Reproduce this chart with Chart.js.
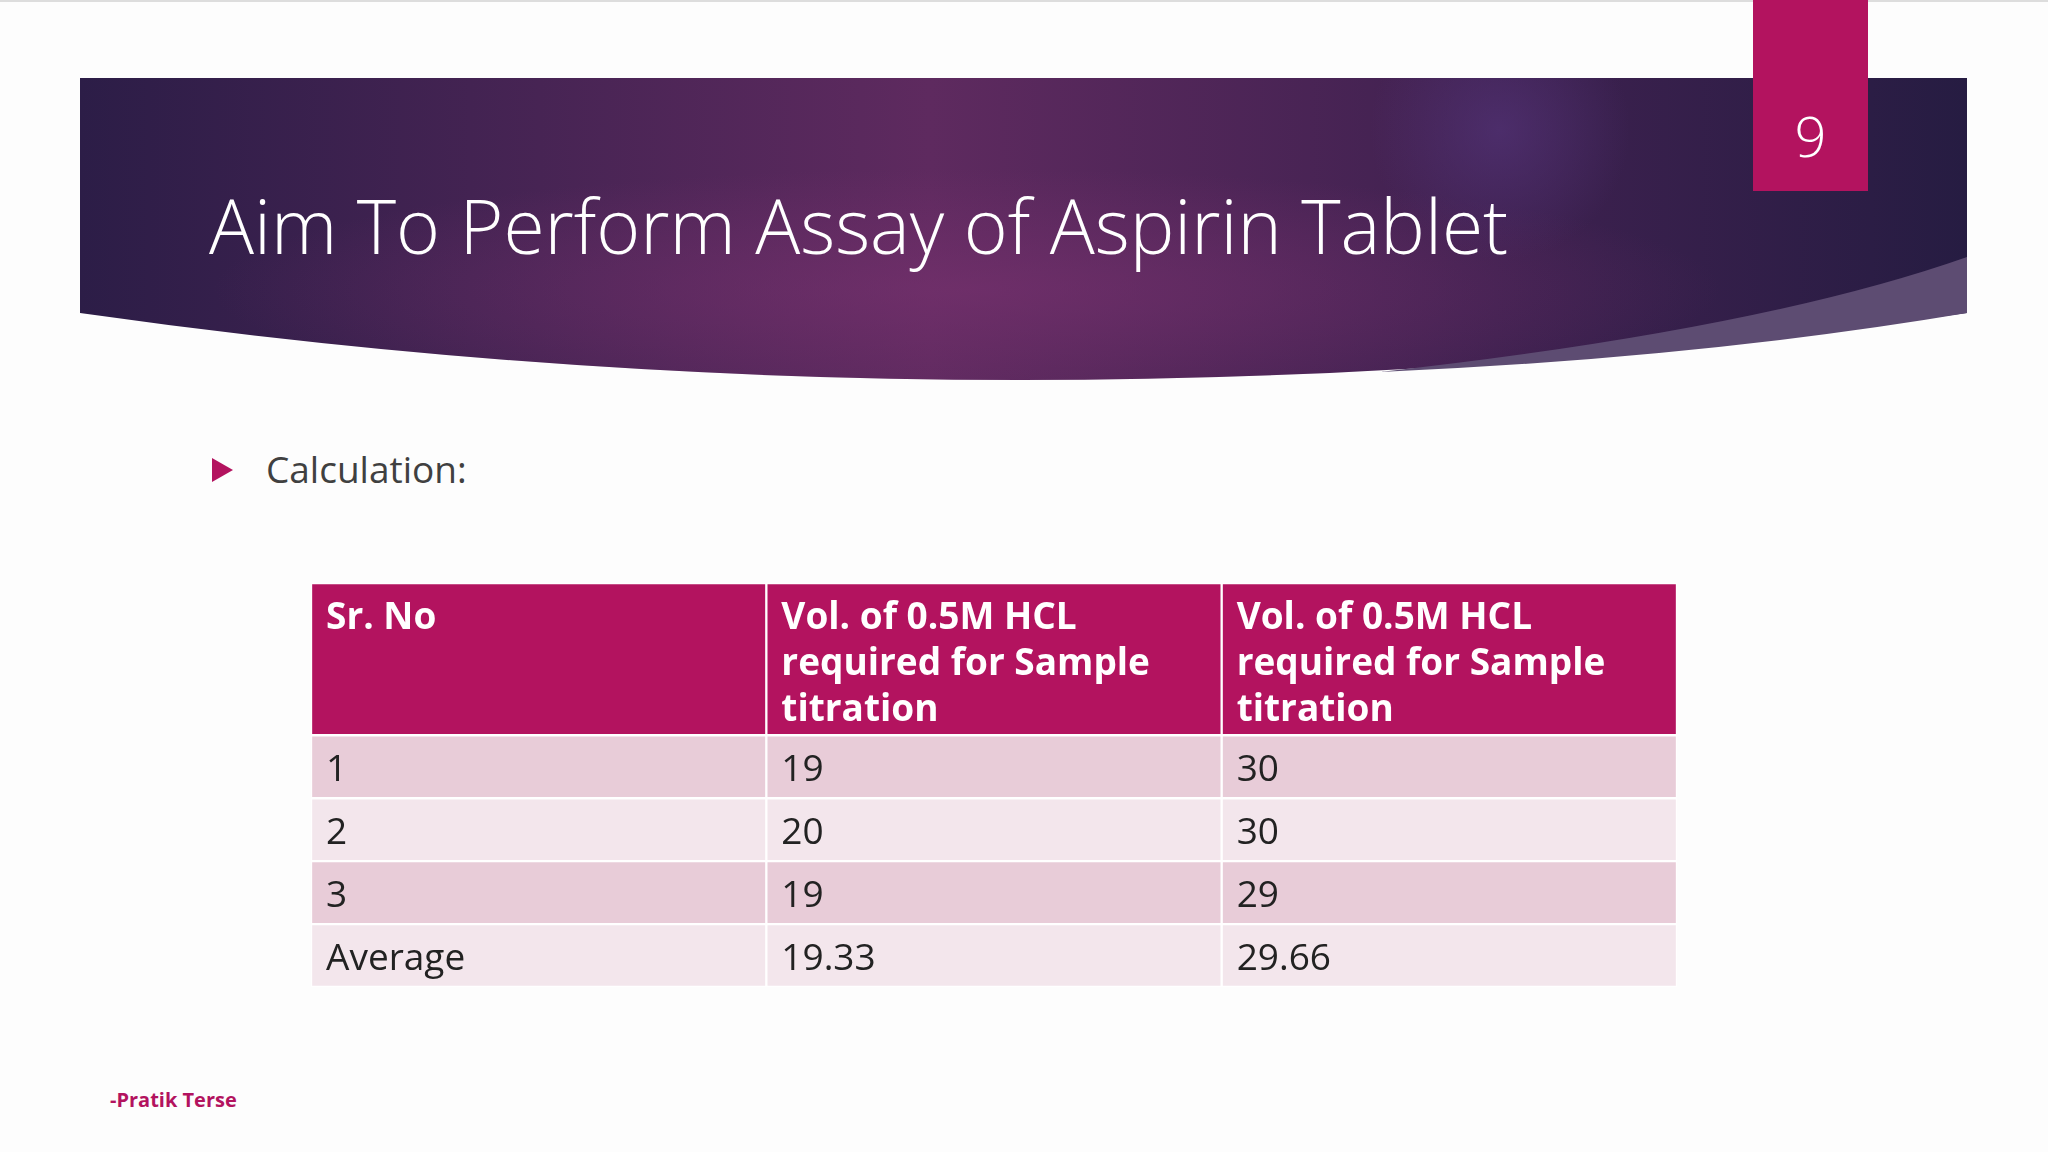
<!DOCTYPE html>
<html><head><meta charset="utf-8">
<script src="https://cdn.jsdelivr.net/npm/chart.js@4.4.1/dist/chart.umd.min.js"></script>
<style>
html,body{margin:0;padding:0;width:2048px;height:1152px;overflow:hidden;background:#fdfdfd;font-family:"Open Sans","Noto Sans",sans-serif}
#bg{position:absolute;left:0;top:0}
.t{position:absolute;white-space:nowrap}
#wrap{position:absolute;left:311px;top:583px;width:1366px;height:404px}
</style></head><body>
<svg id="bg" width="2048" height="1152">
<defs>
<linearGradient id="g" x1="0" y1="0" x2="1" y2="0">
<stop offset="0" stop-color="#2c1d47"/><stop offset="0.45" stop-color="#5e2a5f"/><stop offset="0.75" stop-color="#3f2150"/><stop offset="1" stop-color="#261c42"/>
</linearGradient>
<radialGradient id="r" cx="0.47" cy="0.7" r="0.4"><stop offset="0" stop-color="#7a3270" stop-opacity="0.6"/><stop offset="1" stop-color="#7a3270" stop-opacity="0"/></radialGradient>
<radialGradient id="r2" gradientUnits="userSpaceOnUse" cx="1500" cy="130" r="130"><stop offset="0" stop-color="#55357c" stop-opacity="0.6"/><stop offset="1" stop-color="#55357c" stop-opacity="0"/></radialGradient>
</defs>
<line x1="0" y1="1" x2="2048" y2="1" stroke="#ddd" stroke-width="2"/>
<path d="M80,78 L1967,78 L1967,313 Q1020,447 80,313 Z" fill="url(#g)"/>
<path d="M80,78 L1967,78 L1967,313 Q1020,447 80,313 Z" fill="url(#r)"/>
<path d="M80,78 L1967,78 L1967,313 Q1020,447 80,313 Z" fill="url(#r2)"/>
<path d="M1380,372 Q1760,330 1967,257 L1967,313 Q1700,358 1380,372 Z" fill="#5d4c72"/>
<rect x="1753" y="0" width="115" height="191" fill="#b3135f"/>
<polygon points="212,458 212,482 233,470" fill="#b3135f"/>
</svg>
<div class="t" style="left:1753px;width:115px;top:100px;text-align:center;color:#fff;font-size:56px;line-height:70px;font-weight:300">9</div>
<div class="t" style="left:209px;top:180px;color:#fff;font-size:75px;line-height:90px;font-weight:300">Aim To Perform Assay of Aspirin Tablet</div>
<div class="t" style="left:266px;top:446px;color:#404040;font-size:37px;line-height:46px">Calculation:</div>
<div class="t" style="left:110px;top:1086px;color:#b3135f;font-size:20px;font-weight:bold">-Pratik Terse</div>
<div id="wrap"><canvas id="c"></canvas></div>
<script>
const columns = ["Sr. No", "Vol. of 0.5M HCL required for Sample titration", "Vol. of 0.5M HCL required for Sample titration"];
const headerLines = [["Sr. No"], ["Vol. of 0.5M HCL", "required for Sample", "titration"], ["Vol. of 0.5M HCL", "required for Sample", "titration"]];
const srNo = ["1", "2", "3", "Average"];
const sampleVol = ["19", "20", "19", "19.33"];
const blankVol = ["30", "30", "29", "29.66"];
const rowSpans = [[0, 2.42], [2.42, 3.42], [3.42, 4.42], [4.42, 5.42], [5.42, 6.42]];
const rowColors = ["#b3135f", "#e8ccd8", "#f3e6ec", "#e8ccd8", "#f3e6ec"];

const cellText = [headerLines, ...srNo.map((s, i) => [[s], [sampleVol[i]], [blankVol[i]]])];
const datasets = rowSpans.map((sp, r) => ({
  data: columns.map(() => sp),
  backgroundColor: rowColors[r],
  borderColor: "#ffffff", borderWidth: 1.5, borderSkipped: false,
  grouped: false, barPercentage: 1, categoryPercentage: 1
}));

const textPlugin = {
  id: "txt",
  afterDatasetsDraw(chart) {
    const ctx = chart.ctx;
    ctx.save();
    ctx.textBaseline = "top";
    chart.data.datasets.forEach((ds, r) => {
      chart.getDatasetMeta(r).data.forEach((bar, c) => {
        const left = bar.x - bar.width / 2;
        const top = Math.min(bar.y, bar.base);
        const lines = cellText[r][c];
        ctx.fillStyle = r === 0 ? "#ffffff" : "#222222";
        ctx.font = (r === 0 ? "bold " : "") + "37px 'Open Sans', 'Noto Sans', sans-serif";
        lines.forEach((ln, k) => ctx.fillText(ln, left + 15, top + (r === 0 ? 17 : 17) + k * 46));
      });
    });
    ctx.restore();
  }
};

new Chart(document.getElementById("c"), {
  type: "bar",
  data: { labels: columns, datasets },
  options: {
    responsive: true, maintainAspectRatio: false, animation: false,
    layout: { padding: 0 },
    plugins: { legend: { display: false }, tooltip: { enabled: false } },
    scales: {
      x: { type: "category", display: false, offset: true },
      y: { type: "linear", min: 0, max: 6.42, reverse: true, display: false }
    }
  },
  plugins: [textPlugin]
});
</script>
</body></html>
